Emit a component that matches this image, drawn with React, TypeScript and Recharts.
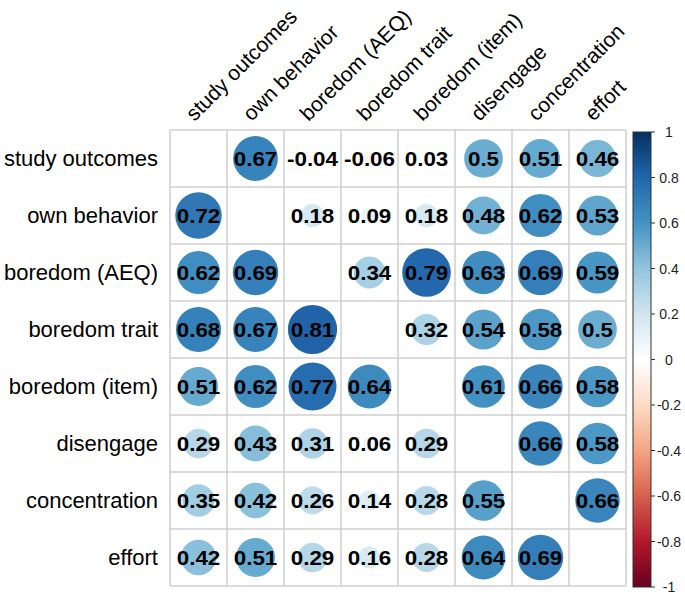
import React from 'react';
import { ScatterChart, Scatter, XAxis, YAxis, ReferenceLine } from 'recharts';

const variables = [
  'study outcomes',
  'own behavior',
  'boredom (AEQ)',
  'boredom trait',
  'boredom (item)',
  'disengage',
  'concentration',
  'effort',
];

// one row per variable, null on the diagonal
const rowStudyOutcomes = [null, 0.67, -0.04, -0.06, 0.03, 0.5, 0.51, 0.46];
const rowOwnBehavior = [0.72, null, 0.18, 0.09, 0.18, 0.48, 0.62, 0.53];
const rowBoredomAEQ = [0.62, 0.69, null, 0.34, 0.79, 0.63, 0.69, 0.59];
const rowBoredomTrait = [0.68, 0.67, 0.81, null, 0.32, 0.54, 0.58, 0.5];
const rowBoredomItem = [0.51, 0.62, 0.77, 0.64, null, 0.61, 0.66, 0.58];
const rowDisengage = [0.29, 0.43, 0.31, 0.06, 0.29, null, 0.66, 0.58];
const rowConcentration = [0.35, 0.42, 0.26, 0.14, 0.28, 0.55, null, 0.66];
const rowEffort = [0.42, 0.51, 0.29, 0.16, 0.28, 0.64, 0.69, null];

const matrix = [
  rowStudyOutcomes,
  rowOwnBehavior,
  rowBoredomAEQ,
  rowBoredomTrait,
  rowBoredomItem,
  rowDisengage,
  rowConcentration,
  rowEffort,
];

const colorbarTicks = [1, 0.8, 0.6, 0.4, 0.2, 0, -0.2, -0.4, -0.6, -0.8, -1];

// RdBu palette as used by corrplot, from -1 to 1
const rdbu = ['#67001F', '#B2182B', '#D6604D', '#F4A582', '#FDDBC7', '#FFFFFF', '#D1E5F0', '#92C5DE', '#4393C3', '#2166AC', '#053061'];

const hexToRgb = (h: string) => [1, 3, 5].map(i => parseInt(h.slice(i, i + 2), 16));

function corrColor(v: number): string {
  const t = ((v + 1) / 2) * (rdbu.length - 1);
  const i = Math.min(rdbu.length - 2, Math.floor(t));
  const f = t - i;
  const a = hexToRgb(rdbu[i]);
  const b = hexToRgb(rdbu[i + 1]);
  const c = a.map((x, k) => Math.round(x + (b[k] - x) * f));
  return `rgb(${c[0]},${c[1]},${c[2]})`;
}

const W = 685;
const H = 598;
const LEFT = 170;
const TOP = 130;
const SIZE = 456;
const N = variables.length;
const CELL = SIZE / N;

const points = matrix.flatMap((row, i) =>
  row.map((v, j) => ({ x: j + 0.5, y: i + 0.5, v })).filter(p => p.v !== null)
);

const gridLines = Array.from({ length: N + 1 }, (_, k) => k);
const tickPos = variables.map((_, k) => k + 0.5);

const FONT = '"Liberation Sans", Arial, sans-serif';

const CellShape = (props: any) => {
  const { cx, cy, payload } = props;
  const v = payload.v as number;
  const r = CELL * 0.48 * Math.sqrt(Math.abs(v));
  return (
    <g>
      <circle cx={cx} cy={cy} r={r} fill={corrColor(v)} />
      <text transform={`translate(${cx},${cy}) scale(1.12,1)`} dy="0.36em" textAnchor="middle" fontFamily={FONT} fontWeight="bold" fontSize={20} fill="#000">
        {String(v)}
      </text>
    </g>
  );
};

const renderTopTick = (props: any) => {
  const { x, payload } = props;
  const label = variables[Math.floor(payload.value)];
  return (
    <text transform={`translate(${x - 4},${TOP - 8}) rotate(-45)`} textAnchor="start" fontFamily={FONT} fontSize={21} fill="#000">
      {label}
    </text>
  );
};

const renderLeftTick = (props: any) => {
  const { y, payload } = props;
  const label = variables[Math.floor(payload.value)];
  return (
    <text x={LEFT - 12} y={y} dy="0.36em" textAnchor="end" fontFamily={FONT} fontSize={22} fill="#000">
      {label}
    </text>
  );
};

const Colorbar = () => {
  const x0 = 633;
  const w = 18;
  const y0 = 132;
  const h = 455;
  const stops = rdbu.slice().reverse();
  return (
    <svg width={W} height={H} style={{ position: 'absolute', left: 0, top: 0, pointerEvents: 'none' }}>
      <defs>
        <linearGradient id="cbar" x1="0" y1="0" x2="0" y2="1">
          {stops.map((c, k) => (
            <stop key={k} offset={`${(k / (stops.length - 1)) * 100}%`} stopColor={c} />
          ))}
        </linearGradient>
      </defs>
      <rect x={x0} y={y0} width={w} height={h} fill="url(#cbar)" stroke="#333" strokeWidth={1} />
      {colorbarTicks.map(t => {
        const y = y0 + ((1 - t) / 2) * h;
        return (
          <g key={t}>
            <line x1={x0 + w} x2={x0 + w + 4} y1={y} y2={y} stroke="#333" strokeWidth={1} />
            <text x={669} y={y} dy="0.36em" textAnchor="middle" fontFamily={FONT} fontSize={14} fill="#222">
              {String(t)}
            </text>
          </g>
        );
      })}
    </svg>
  );
};

export default function App() {
  return (
    <div style={{ position: 'absolute', left: 0, top: 0, width: W, height: H, background: '#fff' }}>
      <ScatterChart
        width={W}
        height={H}
        margin={{ top: TOP - 1, left: LEFT - 1, right: W - LEFT - SIZE, bottom: H - TOP - SIZE }}
      >
        <XAxis
          type="number"
          dataKey="x"
          domain={[0, N]}
          orientation="top"
          height={1}
          ticks={tickPos}
          tick={renderTopTick}
          axisLine={false}
          tickLine={false}
          interval={0}
          allowDataOverflow
        />
        <YAxis
          type="number"
          dataKey="y"
          domain={[0, N]}
          reversed
          width={1}
          ticks={tickPos}
          tick={renderLeftTick}
          axisLine={false}
          tickLine={false}
          interval={0}
          allowDataOverflow
        />
        {gridLines.map(k => (
          <ReferenceLine key={`vx${k}`} x={k} stroke="#cfcfcf" strokeWidth={1.5} ifOverflow="visible" />
        ))}
        {gridLines.map(k => (
          <ReferenceLine key={`hy${k}`} y={k} stroke="#cfcfcf" strokeWidth={1.5} ifOverflow="visible" />
        ))}
        <Scatter data={points} shape={<CellShape />} isAnimationActive={false} />
      </ScatterChart>
      <Colorbar />
    </div>
  );
}
